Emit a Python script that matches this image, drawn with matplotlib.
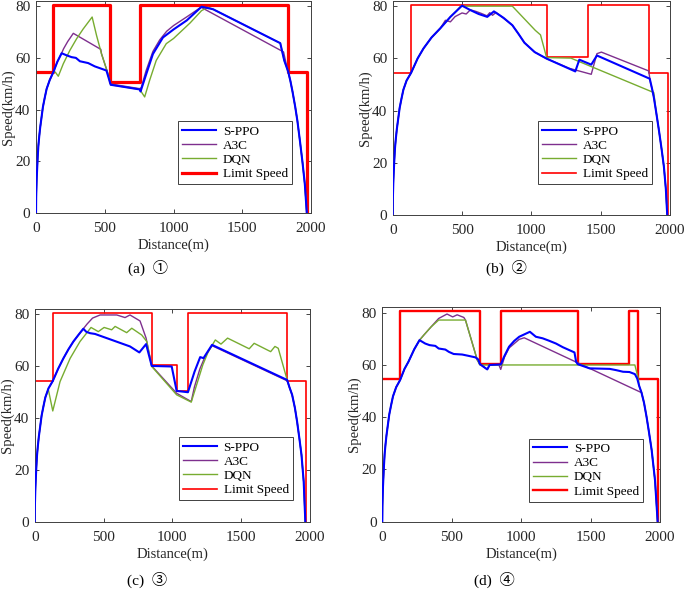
import matplotlib
matplotlib.use('Agg')
import matplotlib.pyplot as plt

plt.rcParams['font.family'] = ['Liberation Serif', 'Noto Sans CJK SC', 'DejaVu Sans']
plt.rcParams['mathtext.fontset'] = 'stix'

# shared start of the run
start_d = [0, 1, 3, 5, 8, 12, 17, 23, 30, 40, 50, 63, 77, 100]
start_v = [0, 6, 10, 13.5, 17, 21.5, 26, 29.5, 33, 37, 41, 44.5, 48, 51.5]

# ---------------- (a) ----------------
a_limit_d = [0, 126, 536, 754, 1834, 1969]
a_limit_v = [54.5, 80.5, 50.5, 80.5, 54.5, 0]
a_sppo_d = start_d + [126, 155, 186, 222, 258, 290, 319, 379, 428, 476, 512, 543,
            754, 760, 802, 850, 923, 1000, 1096, 1204, 1288, 1776, 1805, 1834, 1850, 1865, 1885, 1901,
            1920, 1938, 1955, 1969]
a_sppo_v = start_v + [54.5, 58.5, 61.8, 61, 60.3, 60, 58.7, 58, 56.7, 55.8, 55.1, 49.6,
            47.8, 47, 53.8, 61.5, 67.9, 71, 74.5, 79.8, 78.8, 65.7, 59, 54.6, 51, 47, 41, 35.5,
            27.5, 19.5, 11, 0]
a_a3c_d = start_d + [126, 155, 186, 200, 230, 271, 471, 476, 517, 543, 754, 765,
           800, 850, 900, 950, 1000, 1100, 1200, 1220, 1800, 1820, 1834, 1850, 1865, 1885, 1901,
           1920, 1938, 1955, 1969]
a_a3c_v = start_v + [54.5, 58.5, 61.8, 63.5, 66.3, 69.5, 63.3, 61.6, 54.9, 49.9, 48.1, 48.5,
           55, 62.5, 67, 70.3, 72.5, 76, 79.6, 79, 62.3, 57.5, 54.6, 51, 47, 41, 35.5,
           27.5, 19.5, 11, 0]
a_dqn_d = start_d + [126, 140, 162, 198, 246, 295, 343, 408, 440, 476, 517, 543,
           754, 790, 826, 874, 947, 1000, 1060, 1120, 1204, 1252, 1288, 1776, 1805, 1834, 1850, 1865,
           1885, 1901, 1920, 1938, 1955, 1969]
a_dqn_v = start_v + [54.5, 54.5, 52.9, 57.7, 62.9, 67.4, 71.2, 75.8, 68.7, 61.6, 54.9, 49.6,
           47.8, 44.9, 51.3, 59, 65.5, 67.5, 70.5, 73.5, 78.3, 79.6, 78.8, 65.7, 59, 54.6, 51, 47,
           41, 35.5, 27.5, 19.5, 11, 0]

# ---------------- (b) ----------------
b_limit_d = [0, 133, 1110, 1407, 1846, 1985]
b_limit_v = [54.5, 80.5, 60.5, 80.5, 54.5, 0]
b_sppo_d = start_d + [133, 180, 222, 280, 343, 416, 500, 560, 620, 682, 730, 800,
            863, 907, 950, 1024, 1110, 1317, 1346, 1432, 1473, 1854, 1870, 1883, 1900, 1920, 1940,
            1956, 1970, 1980]
b_sppo_v = start_v + [54.5, 60, 63.8, 68, 71.5, 75.9, 80.2, 78.5, 77, 75.9, 78, 75.5,
            72.7, 69.4, 66, 62.4, 59.9, 55, 59.5, 57.6, 61.1, 52.2, 48.5, 45.2, 39.5, 32.5, 25,
            18.5, 10, 0]
b_a3c_d = start_d + [133, 180, 222, 280, 343, 380, 416, 450, 500, 530, 560, 600,
           640, 680, 700, 720, 745, 780, 863, 907, 950, 1024, 1110, 1273, 1432, 1473, 1505, 1846,
           1860, 1870, 1883, 1900, 1920, 1940, 1956, 1970, 1980]
b_a3c_v = start_v + [54.5, 60, 63.8, 68, 71.5, 74.6, 74, 76, 77.4, 77, 78.6, 78,
           77.2, 76.3, 77.5, 76.5, 77.6, 76.2, 72.7, 69.4, 66, 62.4, 59.9, 56.2, 53.9, 61.8, 62.4, 55.2,
           50.5, 48.5, 45.2, 39.5, 32.5, 25, 18.5, 10, 0]
b_dqn_d = start_d + [133, 180, 222, 280, 343, 416, 460, 490, 863, 1029, 1066, 1110,
           1285, 1883, 1900, 1920, 1940, 1956, 1970, 1980]
b_dqn_v = start_v + [54.5, 60, 63.8, 68, 71.5, 75.9, 78.2, 80, 80, 70.7, 69, 60.3,
           60.1, 46.9, 39.5, 32.5, 25, 18.5, 10, 0]

# ---------------- (c) ----------------
c_limit_d = [0, 131, 852, 1031, 1113, 1834, 1970]
c_limit_v = [54.5, 80.5, 60.5, 50.5, 80.5, 54.5, 0]
c_sppo_d = start_d + [131, 170, 208, 245, 281, 320, 353, 375, 402, 438, 523,
            692, 760, 809, 850, 995, 1031, 1113, 1161, 1202, 1226, 1288, 1834, 1850, 1870, 1890, 1906,
            1922, 1938, 1954, 1966]
c_sppo_v = start_v + [54.3, 59, 63, 66.5, 69.5, 72.2, 74.4, 73.2, 72.7, 72.4, 70.8,
            67.6, 65.3, 68.5, 60.1, 59.9, 50.5, 50, 57.9, 63.5, 63.1, 68.2, 54.7, 52, 49, 44, 38.7,
            32.5, 25.9, 15.6, 0]
c_a3c_d = start_d + [131, 170, 208, 245, 281, 320, 353, 380, 420, 475, 596,
           656, 692, 765, 809, 850, 1031, 1137, 1160, 1200, 1240, 1288, 1834, 1850, 1870, 1890, 1906,
           1922, 1938, 1954, 1966]
c_a3c_v = start_v + [54.3, 59, 63, 66.5, 69.5, 72.2, 74.4, 76.2, 78.5, 79.7, 79.7,
           78.7, 79.7, 77.4, 70.8, 60.1, 49.6, 46.4, 52, 59, 64, 67.9, 54.4, 52, 49, 44, 38.7,
           32.5, 25.9, 15.6, 0]
c_dqn_d = start_d[:-1] + [99, 131, 184, 257, 329, 409, 462, 504, 559, 584, 668, 705,
           777, 814, 850, 1031, 1137, 1180, 1221, 1260, 1312, 1353, 1401, 1558, 1594, 1714, 1745, 1769,
           1834, 1850, 1870, 1890, 1906, 1922, 1938, 1954, 1966]
c_dqn_v = start_v[:-1] + [51, 42.8, 54.1, 63, 69.5, 74.9, 73.3, 74.9, 74, 75.3, 72.9, 74.6,
           72, 69.5, 59.9, 49, 46.2, 53.5, 60.5, 65.5, 70.1, 68.5, 70.8, 66.7, 68.8, 65.6, 67.6, 66.9,
           54.7, 52, 49, 44, 38.7, 32.5, 25.9, 15.6, 0]

# ---------------- (d) ----------------
d_limit_d = [0, 128, 703, 853, 1408, 1775, 1845, 1983]
d_limit_v = [54.5, 80.5, 60.5, 80.5, 60.5, 80.5, 54.5, 0]
d_sppo_d = start_d + [128, 160, 188, 230, 268, 309, 340, 382, 406, 454, 480, 514,
            575, 620, 671, 691, 703, 756, 773, 853, 880, 913, 950, 986, 1063, 1106, 1155, 1200, 1251,
            1300, 1384, 1396, 1408, 1493, 1638, 1686, 1734, 1780, 1819, 1836, 1850, 1867, 1885, 1903,
            1920, 1940, 1964, 1983]
d_sppo_v = start_v + [54.2, 58.5, 61.2, 66, 69.5, 68.2, 67.6, 67.3, 66.3, 65.9, 65, 64.2,
            64, 63.5, 62.9, 62.1, 60.3, 58.3, 60, 60.2, 63.5, 67, 69.2, 70.8, 72.7, 70.8, 70.2, 69.3, 68.2,
            66.8, 64.8, 61.2, 60.3, 58.7, 58.5, 58, 57.4, 57.3, 56.5, 54.8, 52, 49.4, 45.5, 40.2,
            34.5, 27.4, 15.9, 0]
d_a3c_d = start_d + [128, 160, 188, 230, 268, 300, 350, 406, 466, 507, 539, 587,
           599, 684, 703, 756, 773, 840, 853, 880, 913, 986, 1022, 1867, 1885, 1903, 1920, 1940, 1964,
           1983]
d_a3c_v = start_v + [54.2, 58.5, 61.2, 66, 69.5, 71.5, 74.5, 77.8, 79.5, 78.4, 79.2, 78.2,
           77.2, 61.9, 60.3, 58.3, 60, 60, 58.3, 63, 66.5, 69.8, 70.4, 49.4, 45.5, 40.2, 34.5, 27.4, 15.9,
           0]
d_dqn_d = start_d + [128, 160, 188, 230, 268, 300, 350, 406, 599, 684, 703, 1819,
           1845, 1850, 1867, 1885, 1903, 1920, 1940, 1964, 1983]
d_dqn_v = start_v + [54.2, 58.5, 61.2, 66, 69.5, 71.5, 74.5, 77.2, 77.2, 61.9, 60, 60,
           54.5, 52, 49.4, 45.5, 40.2, 34.5, 27.4, 15.9, 0]

panels = [
    ('(a)  \u2460', [0.0526, 0.6420, 0.4015, 0.3563], (0.931, 0.136), 2.3,
     a_limit_d, a_limit_v, a_sppo_d, a_sppo_v, a_a3c_d, a_a3c_v, a_dqn_d, a_dqn_v),
    ('(b)  \u2461', [0.5733, 0.6387, 0.4048, 0.3597], (0.934, 0.144), 1.2,
     b_limit_d, b_limit_v, b_sppo_d, b_sppo_v, b_a3c_d, b_a3c_v, b_dqn_d, b_dqn_v),
    ('(c)  \u2462', [0.0507, 0.1222, 0.4019, 0.3585], (0.937, 0.104), 1.2,
     c_limit_d, c_limit_v, c_sppo_d, c_sppo_v, c_a3c_d, c_a3c_v, c_dqn_d, c_dqn_v),
    ('(d)  \u2463', [0.5581, 0.1232, 0.4054, 0.3600], (0.938, 0.094), 1.7,
     d_limit_d, d_limit_v, d_sppo_d, d_sppo_v, d_a3c_d, d_a3c_v, d_dqn_d, d_dqn_v),
]

caption_pos = [(148, 268), (506, 268), (147, 580), (494, 580)]

fig = plt.figure(figsize=(6.85, 5.95), dpi=100)

for i, p in enumerate(panels):
    (cap, rect, leg_anchor, red_lw,
     lim_d, lim_v, s_d, s_v, a_d, a_v, q_d, q_v) = p
    ax = fig.add_axes(rect)
    ax.plot(s_d, s_v, color='#0000FF', lw=1.5, label='S-PPO', zorder=5)
    ax.plot(a_d, a_v, color='#7E2F8E', lw=1.0, label='A3C', zorder=3)
    ax.plot(q_d, q_v, color='#77AC30', lw=1.0, label='DQN', zorder=4)
    ax.plot(lim_d, lim_v, color='#FF0000', lw=red_lw, drawstyle='steps-post',
            label='Limit Speed', zorder=2)
    ax.set_xlim(0, 2000)
    ax.set_ylim(0, 82)
    ax.set_xticks([0, 500, 1000, 1500, 2000])
    ax.set_yticks([0, 20, 40, 60, 80])
    ax.tick_params(direction='in', top=True, right=True, length=3, width=0.6,
                   labelsize=11, colors='#262626', pad=4)
    ax.tick_params(axis='x', pad=6.5)
    for s in ax.spines.values():
        s.set_color('#404040')
        s.set_linewidth(0.7)
    ax.set_xlabel('Distance(m)', fontsize=10.5, labelpad=2.5, color='#262626')
    ax.set_ylabel('Speed(km/h)', fontsize=10.5, labelpad=0, color='#262626')
    leg = ax.legend(loc='lower right', bbox_to_anchor=leg_anchor, fontsize=9.5,
                    fancybox=False, framealpha=1, edgecolor='#404040',
                    handlelength=2.6, handletextpad=0.5, borderpad=0.3,
                    labelspacing=0.15, borderaxespad=0)
    leg.get_frame().set_linewidth(0.7)
    fig.text(caption_pos[i][0] / 685, 1 - caption_pos[i][1] / 595, cap,
             ha='center', va='center', fontsize=11)

fig.savefig('out.png', dpi=100)
